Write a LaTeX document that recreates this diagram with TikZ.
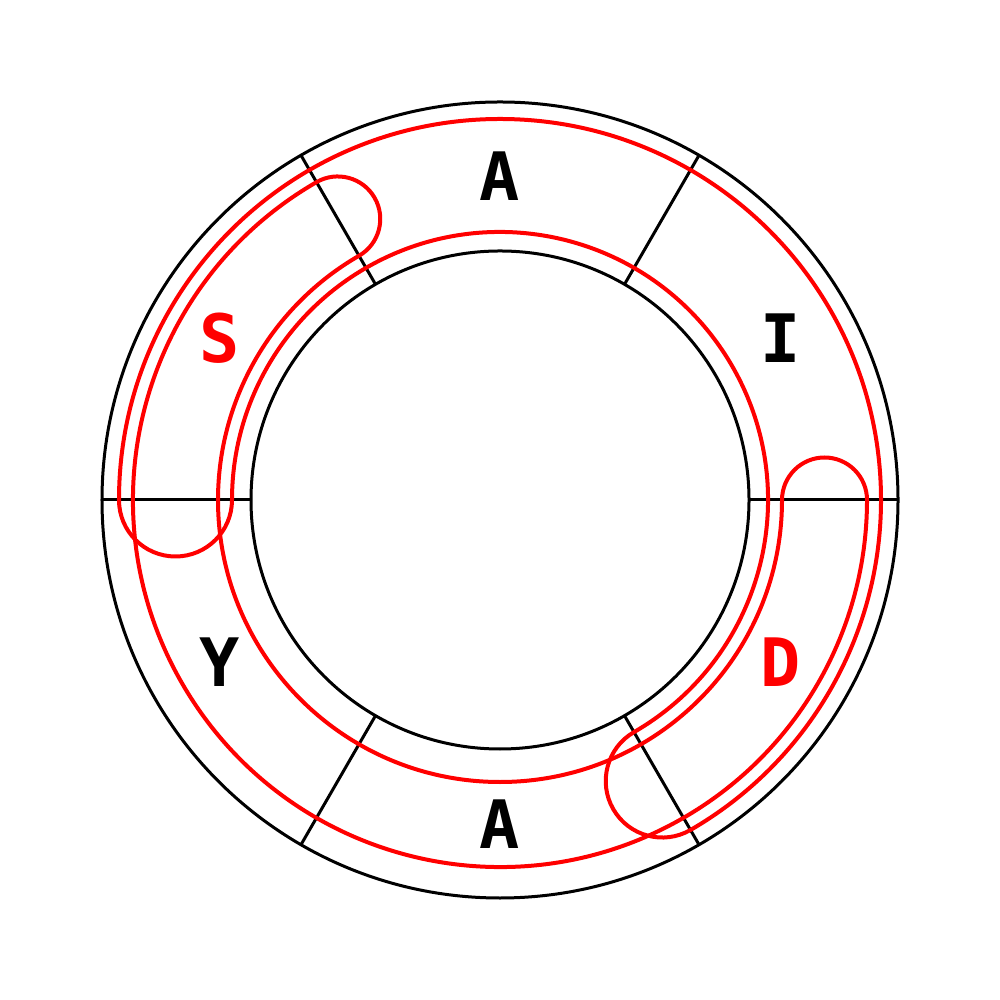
\documentclass[tikz,border=0pt]{standalone}
\usepackage{fontspec}
\setmonofont{DejaVu Sans Mono}
\usepackage{tikz}

\begin{document}
\begin{tikzpicture}[line join=round]
		\tikzstyle{ring_line} = [draw, black, line width=0.03cm]
		\tikzstyle{chain_line} = [draw, red, line width=0.04cm]
		\tikzstyle{black_letter} = [font=\ttfamily\bfseries\fontsize{19}{21}\selectfont,
		text=black, inner sep=0pt]
		\tikzstyle{red_letter} = [black_letter, text=red]
		\useasboundingbox (-5,-5) rectangle (5,5);
		\draw[ring_line] (0,0) circle (3.98);
		\draw[ring_line] (0,0) circle (2.49);
		\draw[ring_line] (0:2.49) -- (0:3.98);
		\draw[ring_line] (60:2.49) -- (60:3.98);
		\draw[ring_line] (120:2.49) -- (120:3.98);
		\draw[ring_line] (180:2.49) -- (180:3.98);
		\draw[ring_line] (240:2.49) -- (240:3.98);
		\draw[ring_line] (300:2.49) -- (300:3.98);
		\node[black_letter] (top_a) at (90:3.24) {A};
		\node[black_letter] (right_i) at (30:3.24) {I};
		\node[red_letter] (right_d) at (-30:3.24) {D};
		\node[black_letter] (bottom_a) at (-90:3.24) {A};
		\node[black_letter] (left_y) at (210:3.24) {Y};
		\node[red_letter] (left_s) at (150:3.24) {S};
		\draw[chain_line] (180:3.81) arc[start angle=180, end angle=-60, radius=3.81]
		arc[start angle=300, end angle=120, radius=0.565]
		arc[start angle=-60, end angle=180, radius=2.68]
		arc[start angle=0, end angle=-180, radius=0.565] -- cycle;
		\draw[chain_line] (120:3.67) arc[start angle=120, end angle=360, radius=3.67]
		arc[start angle=0, end angle=180, radius=0.425]
		arc[start angle=360, end angle=120, radius=2.82]
		arc[start angle=300, end angle=480, radius=0.425] -- cycle;
	\end{tikzpicture}
\end{document}
